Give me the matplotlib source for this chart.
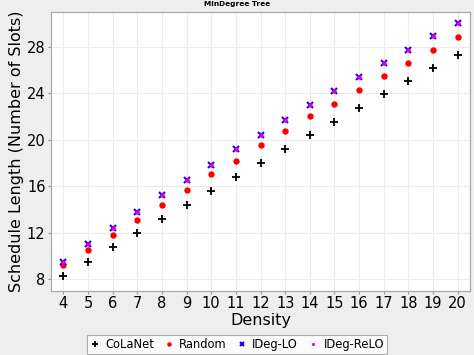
import matplotlib
matplotlib.use("Agg")
import matplotlib.pyplot as plt

density = list(range(4, 21))
colanet = [8.3, 9.5, 10.8, 12.0, 13.2, 14.4, 15.6, 16.8, 18.0, 19.2, 20.4, 21.5, 22.7, 23.9, 25.0, 26.2, 27.3]
random_ = [9.2, 10.5, 11.8, 13.1, 14.4, 15.7, 17.0, 18.2, 19.5, 20.7, 22.0, 23.1, 24.3, 25.5, 26.6, 27.7, 28.8]
ideg_lo = [9.5, 11.0, 12.4, 13.8, 15.2, 16.5, 17.8, 19.2, 20.4, 21.7, 23.0, 24.2, 25.4, 26.6, 27.7, 28.9, 30.0]
ideg_relo = [9.5, 11.0, 12.4, 13.8, 15.2, 16.5, 17.8, 19.2, 20.4, 21.7, 23.0, 24.2, 25.4, 26.6, 27.7, 28.9, 30.0]
yticks = [8, 12, 16, 20, 24, 28]

fig = plt.figure(figsize=(4.74, 3.55), dpi=100, facecolor="#eeeeee")
ax = fig.add_axes([0.1076, 0.181, 0.8840, 0.786])
ax.set_facecolor("white")

ax.plot(density, colanet, linestyle="none", marker="+", color="black", markersize=6, markeredgewidth=1.3, label="CoLaNet")
ax.plot(density, random_, linestyle="none", marker="o", color="#ff0000", markersize=4.6, markeredgewidth=0, label="Random")
ax.plot(density, ideg_lo, linestyle="none", marker="x", color="#2200ee", markersize=5, markeredgewidth=1.5, label="IDeg-LO")
ax.plot(density, ideg_relo, linestyle="none", marker="o", color="#dd00dd", markersize=3.2, markeredgewidth=0, label="IDeg-ReLO")

ax.set_xlim(3.5, 20.5)
ax.set_ylim(7.0, 31.0)
ax.set_xticks(density)
ax.set_yticks(yticks)
ax.tick_params(axis="both", labelsize=10.5, length=2, color="#999999", pad=2)
ax.grid(True, color="#ececec", linewidth=0.8)
ax.set_axisbelow(True)
for s in ax.spines.values():
    s.set_color("#aaaaaa")
    s.set_linewidth(0.9)

ax.set_xlabel("Density", fontsize=11.5, labelpad=1)
ax.set_ylabel("Schedule Length (Number of Slots)", fontsize=11.5, labelpad=2)
fig.text(0.5, 0.988, "MinDegree Tree", ha="center", va="center", fontsize=5.3, fontweight="bold")

leg = fig.legend(loc="lower center", bbox_to_anchor=(0.5, 0.003), ncol=4, fontsize=8.3,
                 frameon=True, fancybox=False, edgecolor="#999999", handlelength=0.8,
                 handletextpad=0.5, columnspacing=0.9, borderpad=0.25, markerscale=0.7,
                 borderaxespad=0)
leg.get_frame().set_linewidth(0.8)

fig.savefig("out.png", dpi=100, facecolor=fig.get_facecolor())
